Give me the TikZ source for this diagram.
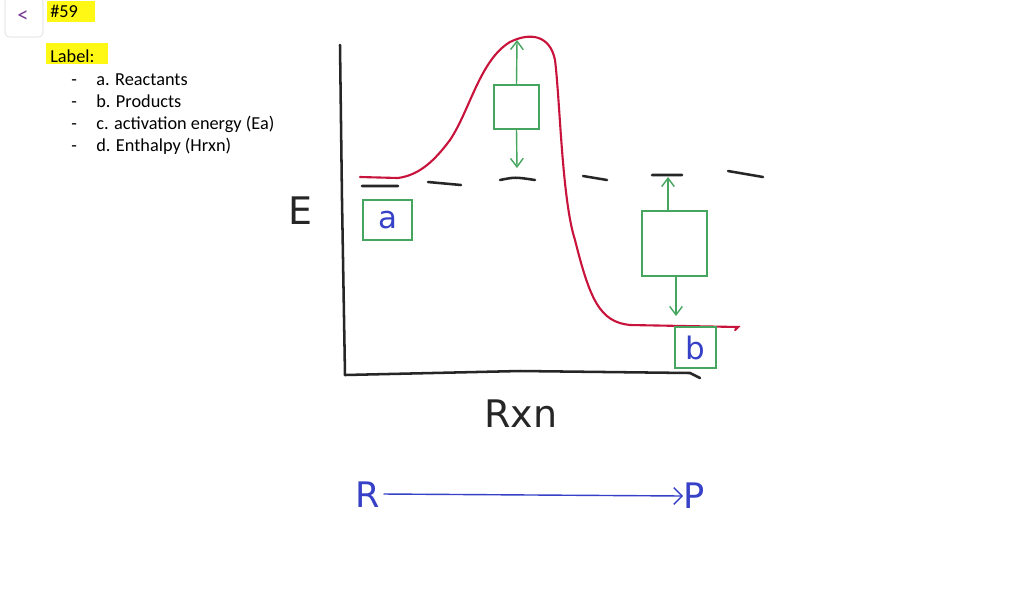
\documentclass[tikz,border=0pt]{standalone}
\usepackage{fontspec}
\setmainfont{Carlito}
\newfontfamily\handfont{DejaVu Sans}
\usetikzlibrary{arrows.meta}
\definecolor{inkred}{RGB}{200,20,60}
\definecolor{inkgreen}{RGB}{70,165,95}
\definecolor{inkblue}{RGB}{55,65,200}
\definecolor{marker}{RGB}{255,248,20}
\definecolor{btnpurple}{RGB}{120,60,150}
\tikzset{%
  labelbox/.style={
    draw=inkgreen,
    line width=1pt,
    inner sep=0pt
  },
  gap arrow/.style={
    inkgreen,
    line width=1pt,
    -{Straight Barb[length=6pt,width=9pt]}
  },
  list item/.style={
    anchor=base west,
    font=\fontsize{13pt}{15pt}\selectfont,
    inner sep=0pt
  },
  hand/.style={
    font=\handfont\fontsize{22pt}{24pt}\selectfont,
    inner sep=0pt
  },
  pen/.style={
    black!85,
    line width=1.8pt,
    line cap=round
  },
}

\begin{document}
\begin{tikzpicture}[x=0.025cm,y=-0.025cm]
\useasboundingbox[fill=white] (0,0) rectangle (1024,614);
\draw[rounded corners=3pt,gray!30] (5,-3) rectangle (43,37);
\node[btnpurple,font=\fontsize{16pt}{18pt}\selectfont] (back) at (23,17) {<};
\fill[marker] (47,1) rectangle (95,22);
\node[list item] (num) at (50,17) {\#59};
\fill[marker] (46,43) rectangle (108,64);
\node[list item] (title) at (50,62) {Label:};
\foreach \y/\t in {80/a. Reactants,102/b. Products,124/c. activation energy (Ea),146/d. Enthalpy (Hrxn)}{
  \node[list item] at (71,\y+5) {-};
  \node[list item] at (96,\y+5) {\t};
}
\draw[pen] (340,45) -- (342,200) -- (345,375);
\draw[pen] (345,375) -- (520,371) -- (690,373) -- (700,378);
\node[hand,black!85,font=\handfont\fontsize{27pt}{29pt}\selectfont] (E) at (300,211) {E};
\node[hand,black!85,font=\handfont\fontsize{27pt}{29pt}\selectfont] (rxn) at (521,414) {Rxn};
\draw[pen] (362,186) -- (398,186)
  (428,182) -- (461,185) (500,180) .. controls (515,177) .. (535,180)
  (583,176) -- (607,180) (652,175) -- (682,175) (728,171) -- (763,177);
\draw[inkred,line width=1.5pt,line cap=round] (360,177) -- (398,178)
  .. controls (420,175) and (435,160) .. (450,140)
  .. controls (470,110) and (480,60) .. (510,42)
  .. controls (530,32) and (550,35) .. (555,60)
  .. controls (560,100) and (562,200) .. (575,240)
  .. controls (590,300) and (600,322) .. (630,325)
  -- (738,327) -- (735,330);
\node[labelbox,minimum width=1.125cm,minimum height=1.1cm] (boxc) at (516.5,107) {};
\node[labelbox,minimum width=1.225cm,minimum height=1cm] (boxa) at (387.5,220) {};
\node[labelbox,minimum width=1.625cm,minimum height=1.625cm] (boxd) at (674.5,243.5) {};
\node[labelbox,minimum width=1.025cm,minimum height=1.025cm] (boxb) at (695.5,347.5) {};
\node[hand,inkblue] (a) at (boxa) {a};
\node[hand,inkblue] (b) at (boxb) {b};
\coordinate (peak) at (517,40);
\coordinate (hill) at (517,168);
\coordinate (top) at (668,177);
\coordinate (low) at (676,316);
\draw[gap arrow] (boxc.north) -- (peak);
\draw[gap arrow] (boxc.south) -- (hill);
\draw[gap arrow] (boxd.north -| top) -- (top);
\draw[gap arrow] (boxd.south -| low) -- (low);
\node[hand,inkblue,font=\handfont\fontsize{25pt}{27pt}\selectfont] (R) at (368,495) {R};
\node[hand,inkblue,font=\handfont\fontsize{25pt}{27pt}\selectfont] (P) at (694,496) {P};
\draw[inkblue,line width=1pt,-{Straight Barb[length=6pt,width=12pt]}] (R.east) ++(3,-1) -- (P.west);
\end{tikzpicture}
\end{document}
